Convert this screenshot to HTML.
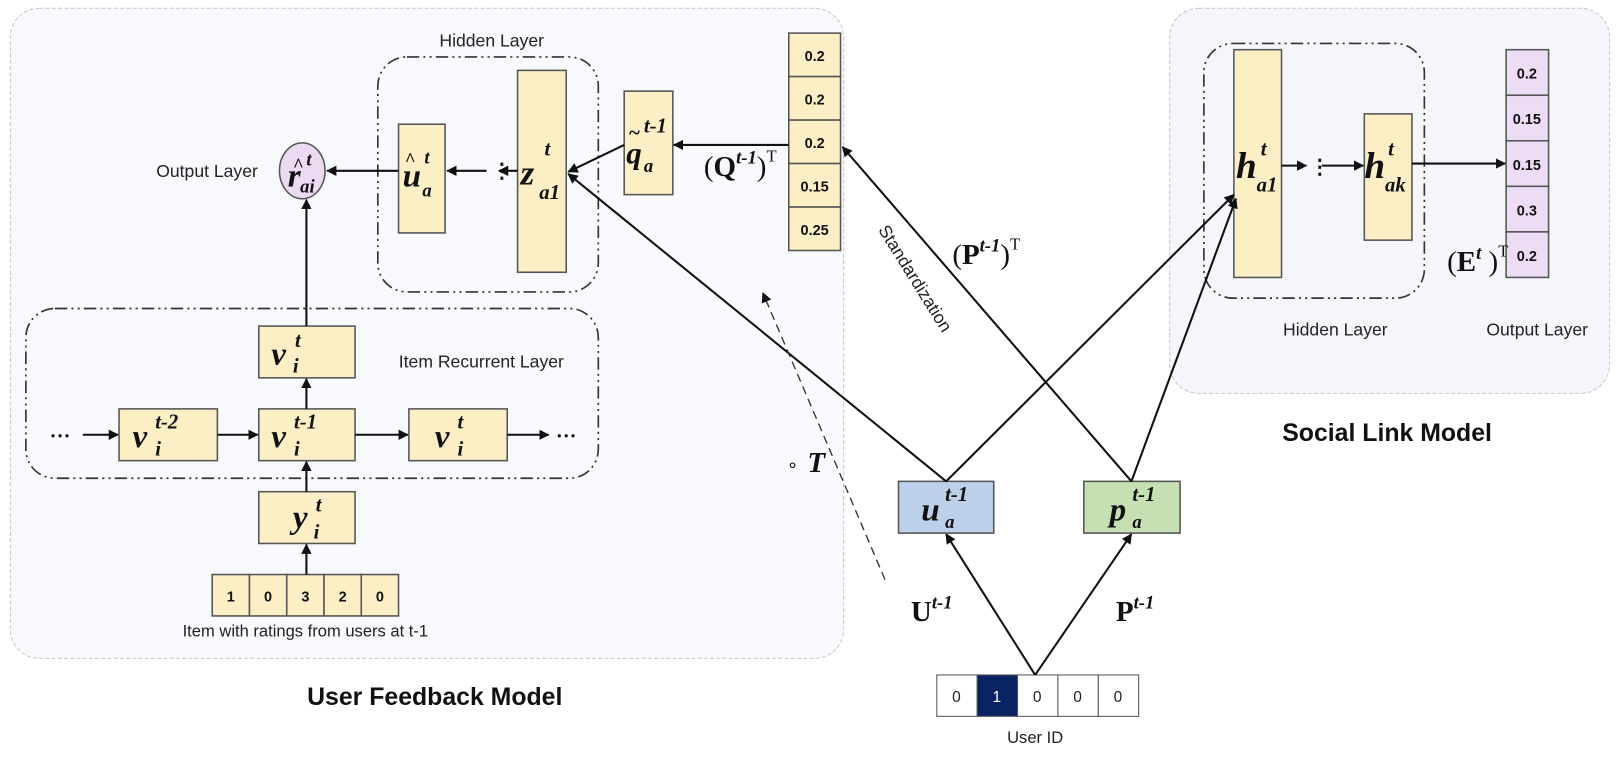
<!DOCTYPE html>
<html><head><meta charset="utf-8"><style>
html,body{margin:0;padding:0;background:#fff;width:1620px;height:765px;overflow:hidden}
svg{display:block}
.m{font-family:"Liberation Serif",serif;font-weight:bold;font-style:italic;fill:#111}
.s{font-family:"Liberation Sans",sans-serif;fill:#222}
.n{font-family:"Liberation Sans",sans-serif;font-weight:bold;fill:#111}
.box{fill:#fcefc6;stroke:#555;stroke-width:1.5}
.ln{stroke:#111;stroke-width:2;fill:none}
.dd{stroke:#333;stroke-width:1.6;fill:none;stroke-dasharray:12 4 2 4 2 4}
</style></head><body>
<svg width="1620" height="765" viewBox="0 0 1565 739" preserveAspectRatio="none">
<defs><marker id="a" markerWidth="10" markerHeight="10" refX="9" refY="5" orient="auto" markerUnits="userSpaceOnUse"><path d="M0,0 L10,5 L0,10 z" fill="#111"/></marker></defs>
<!-- panels -->
<rect x="10" y="8" width="805" height="628" rx="28" fill="#f7f9fc" stroke="#c8c8c8" stroke-dasharray="4 2"/>
<rect x="1130" y="8" width="425" height="372" rx="28" fill="#f5f6fc" stroke="#c8c8c8" stroke-dasharray="4 2"/>
<!-- dashed group boxes -->
<rect x="365" y="55" width="213" height="227" rx="28" class="dd"/>
<rect x="25" y="298" width="553" height="164" rx="28" class="dd"/>
<rect x="1163" y="42" width="213" height="246" rx="28" class="dd"/>
<text x="475" y="45" class="s" font-size="17" text-anchor="middle">Hidden Layer</text>
<text x="200" y="171" class="s" font-size="17" text-anchor="middle">Output Layer</text>
<text x="465" y="355" class="s" font-size="17" text-anchor="middle">Item Recurrent Layer</text>
<text x="295" y="615" class="s" font-size="16" text-anchor="middle">Item with ratings from users at t-1</text>
<text x="420" y="681" class="n" font-size="24" text-anchor="middle">User Feedback Model</text>
<text x="1290" y="324" class="s" font-size="17" text-anchor="middle">Hidden Layer</text>
<text x="1485" y="324" class="s" font-size="17" text-anchor="middle">Output Layer</text>
<text x="1340" y="426" class="n" font-size="24" text-anchor="middle">Social Link Model</text>
<text x="1000" y="718" class="s" font-size="16" text-anchor="middle">User ID</text>
<!-- boxes -->
<rect x="500" y="68" width="47" height="195" class="box"/>
<rect x="385" y="120" width="45" height="105" class="box"/>
<rect x="603" y="88" width="47" height="100" class="box"/>
<ellipse cx="292" cy="165" rx="22" ry="27" fill="#ecd9f2" stroke="#555" stroke-width="1.5"/>
<rect x="250" y="315" width="93" height="50" class="box"/>
<rect x="115" y="395" width="95" height="50" class="box"/>
<rect x="250" y="395" width="93" height="50" class="box"/>
<rect x="395" y="395" width="95" height="50" class="box"/>
<rect x="250" y="475" width="93" height="50" class="box"/>
<g font-family="Liberation Sans" font-weight="bold" font-size="14" text-anchor="middle" fill="#111">
<rect x="205" y="555" width="36" height="40" class="box"/><text x="223" y="581">1</text>
<rect x="241" y="555" width="36" height="40" class="box"/><text x="259" y="581">0</text>
<rect x="277" y="555" width="36" height="40" class="box"/><text x="295" y="581">3</text>
<rect x="313" y="555" width="36" height="40" class="box"/><text x="331" y="581">2</text>
<rect x="349" y="555" width="36" height="40" class="box"/><text x="367" y="581">0</text>
<rect x="762" y="32" width="50" height="42" class="box"/><text x="787" y="59">0.2</text>
<rect x="762" y="74" width="50" height="42" class="box"/><text x="787" y="101">0.2</text>
<rect x="762" y="116" width="50" height="42" class="box"/><text x="787" y="143">0.2</text>
<rect x="762" y="158" width="50" height="42" class="box"/><text x="787" y="185">0.15</text>
<rect x="762" y="200" width="50" height="42" class="box"/><text x="787" y="227">0.25</text>
<g fill="#111">
<rect x="1455" y="48" width="41" height="44" fill="#ecdcf5" stroke="#555" stroke-width="1.5"/><text x="1475" y="76">0.2</text>
<rect x="1455" y="92" width="41" height="44" fill="#ecdcf5" stroke="#555" stroke-width="1.5"/><text x="1475" y="120">0.15</text>
<rect x="1455" y="136" width="41" height="44" fill="#ecdcf5" stroke="#555" stroke-width="1.5"/><text x="1475" y="164">0.15</text>
<rect x="1455" y="180" width="41" height="44" fill="#ecdcf5" stroke="#555" stroke-width="1.5"/><text x="1475" y="208">0.3</text>
<rect x="1455" y="224" width="41" height="44" fill="#ecdcf5" stroke="#555" stroke-width="1.5"/><text x="1475" y="252">0.2</text>
</g>
</g>
<rect x="1192" y="48" width="46" height="220" class="box"/>
<rect x="1318" y="110" width="46" height="122" class="box"/>
<rect x="868" y="465" width="92" height="50" fill="#bdd0e9" stroke="#555" stroke-width="1.5"/>
<rect x="1047" y="465" width="93" height="50" fill="#c6e0b4" stroke="#555" stroke-width="1.5"/>
<g font-family="Liberation Sans" font-size="15" text-anchor="middle">
<rect x="905" y="652" width="39" height="40" fill="#fff" stroke="#555"/><text x="924" y="678" fill="#222">0</text>
<rect x="944" y="652" width="39" height="40" fill="#0a2463" stroke="#555"/><text x="963" y="678" fill="#fff">1</text>
<rect x="983" y="652" width="39" height="40" fill="#fff" stroke="#555"/><text x="1002" y="678" fill="#222">0</text>
<rect x="1022" y="652" width="39" height="40" fill="#fff" stroke="#555"/><text x="1041" y="678" fill="#222">0</text>
<rect x="1061" y="652" width="39" height="40" fill="#fff" stroke="#555"/><text x="1080" y="678" fill="#222">0</text>
</g>
<!-- connectors -->
<g class="ln" marker-end="url(#a)">
<line x1="762" y1="140" x2="651" y2="140"/>
<line x1="603" y1="140" x2="549" y2="166"/>
<line x1="914" y1="465" x2="549" y2="168"/>
<line x1="500" y1="165" x2="482" y2="165"/>
<line x1="470" y1="165" x2="432" y2="165"/>
<line x1="385" y1="165" x2="316" y2="165"/>
<line x1="296" y1="315" x2="296" y2="193"/>
<line x1="80" y1="420" x2="114" y2="420"/>
<line x1="210" y1="420" x2="249" y2="420"/>
<line x1="343" y1="420" x2="394" y2="420"/>
<line x1="490" y1="420" x2="530" y2="420"/>
<line x1="296" y1="395" x2="296" y2="366"/>
<line x1="296" y1="475" x2="296" y2="446"/>
<line x1="296" y1="555" x2="296" y2="526"/>
<line x1="914" y1="465" x2="1192" y2="188"/>
<line x1="1093" y1="465" x2="1194" y2="192"/>
<line x1="1093" y1="465" x2="814" y2="142"/>
<line x1="1000" y1="652" x2="914" y2="516"/>
<line x1="1000" y1="652" x2="1093" y2="516"/>
<line x1="1238" y1="160" x2="1262" y2="160"/>
<line x1="1277" y1="160" x2="1317" y2="160"/>
<line x1="1364" y1="158" x2="1454" y2="158"/>
</g>
<line x1="855" y1="560" x2="737" y2="283" stroke="#333" stroke-width="1.3" stroke-dasharray="8 5" marker-end="url(#a)"/>
<g font-family="Liberation Serif" font-weight="bold" font-size="20" fill="#111">
<text x="475" y="172">⋮</text><text x="1265" y="168">⋮</text>
<text x="48" y="428">···</text><text x="537" y="428">···</text>
</g>
<!-- math labels -->
<g class="m">
<text x="278" y="180" font-size="32">r</text><text x="283" y="165" font-size="18">^</text><text x="296" y="160" font-size="18">t</text><text x="290" y="186" font-size="18">ai</text>
<text x="389" y="180" font-size="32">u</text><text x="391" y="160" font-size="18">^</text><text x="410" y="158" font-size="18">t</text><text x="408" y="190" font-size="18">a</text>
<text x="503" y="178" font-size="34">z</text><text x="526" y="150" font-size="20">t</text><text x="521" y="192" font-size="20">a1</text>
<text x="605" y="158" font-size="30">q</text><text x="607" y="135" font-size="20">~</text><text x="622" y="128" font-size="20">t-1</text><text x="622" y="166" font-size="18">a</text>
<text x="262" y="352" font-size="32">v</text><text x="285" y="335" font-size="20">t</text><text x="283" y="360" font-size="20">i</text>
<text x="128" y="432" font-size="32">v</text><text x="150" y="414" font-size="20">t-2</text><text x="150" y="440" font-size="20">i</text>
<text x="262" y="432" font-size="32">v</text><text x="284" y="414" font-size="20">t-1</text><text x="284" y="440" font-size="20">i</text>
<text x="420" y="432" font-size="32">v</text><text x="442" y="414" font-size="20">t</text><text x="442" y="440" font-size="20">i</text>
<text x="283" y="510" font-size="32">y</text><text x="305" y="494" font-size="20">t</text><text x="303" y="520" font-size="20">i</text>
<text x="890" y="503" font-size="32">u</text><text x="913" y="484" font-size="20">t-1</text><text x="913" y="510" font-size="18">a</text>
<text x="1072" y="503" font-size="32">p</text><text x="1094" y="484" font-size="20">t-1</text><text x="1094" y="510" font-size="18">a</text>
<text x="1194" y="172" font-size="36">h</text><text x="1218" y="150" font-size="20">t</text><text x="1214" y="185" font-size="20">a1</text>
<text x="1318" y="172" font-size="36">h</text><text x="1341" y="150" font-size="20">t</text><text x="1338" y="185" font-size="20">ak</text>
<text x="780" y="456" font-size="28">T</text>
</g>
<text x="760" y="455" font-family="Liberation Sans" font-size="18" fill="#111">∘</text>
<g font-family="Liberation Serif" fill="#111">
<text x="680" y="170" font-size="28">(<tspan font-weight="bold">Q</tspan><tspan font-style="italic" font-weight="bold" font-size="18" dy="-12">t-1</tspan><tspan dy="12">)</tspan><tspan font-size="16" dy="-14">T</tspan></text>
<text x="920" y="255" font-size="28">(<tspan font-weight="bold">P</tspan><tspan font-style="italic" font-weight="bold" font-size="18" dy="-12">t-1</tspan><tspan dy="12">)</tspan><tspan font-size="16" dy="-14">T</tspan></text>
<text x="1398" y="262" font-size="28">(<tspan font-weight="bold">E</tspan><tspan font-style="italic" font-weight="bold" font-size="18" dy="-12">t</tspan><tspan dy="12"> )</tspan><tspan font-size="16" dy="-14">T</tspan></text>
<text x="880" y="600" font-size="28" font-weight="bold">U<tspan font-style="italic" font-size="18" dy="-12">t-1</tspan></text>
<text x="1078" y="600" font-size="28" font-weight="bold">P<tspan font-style="italic" font-size="18" dy="-12">t-1</tspan></text>
</g>
<text x="0" y="0" class="s" font-size="17" transform="translate(848,222) rotate(58)">Standardization</text>
</svg>
</body></html>
